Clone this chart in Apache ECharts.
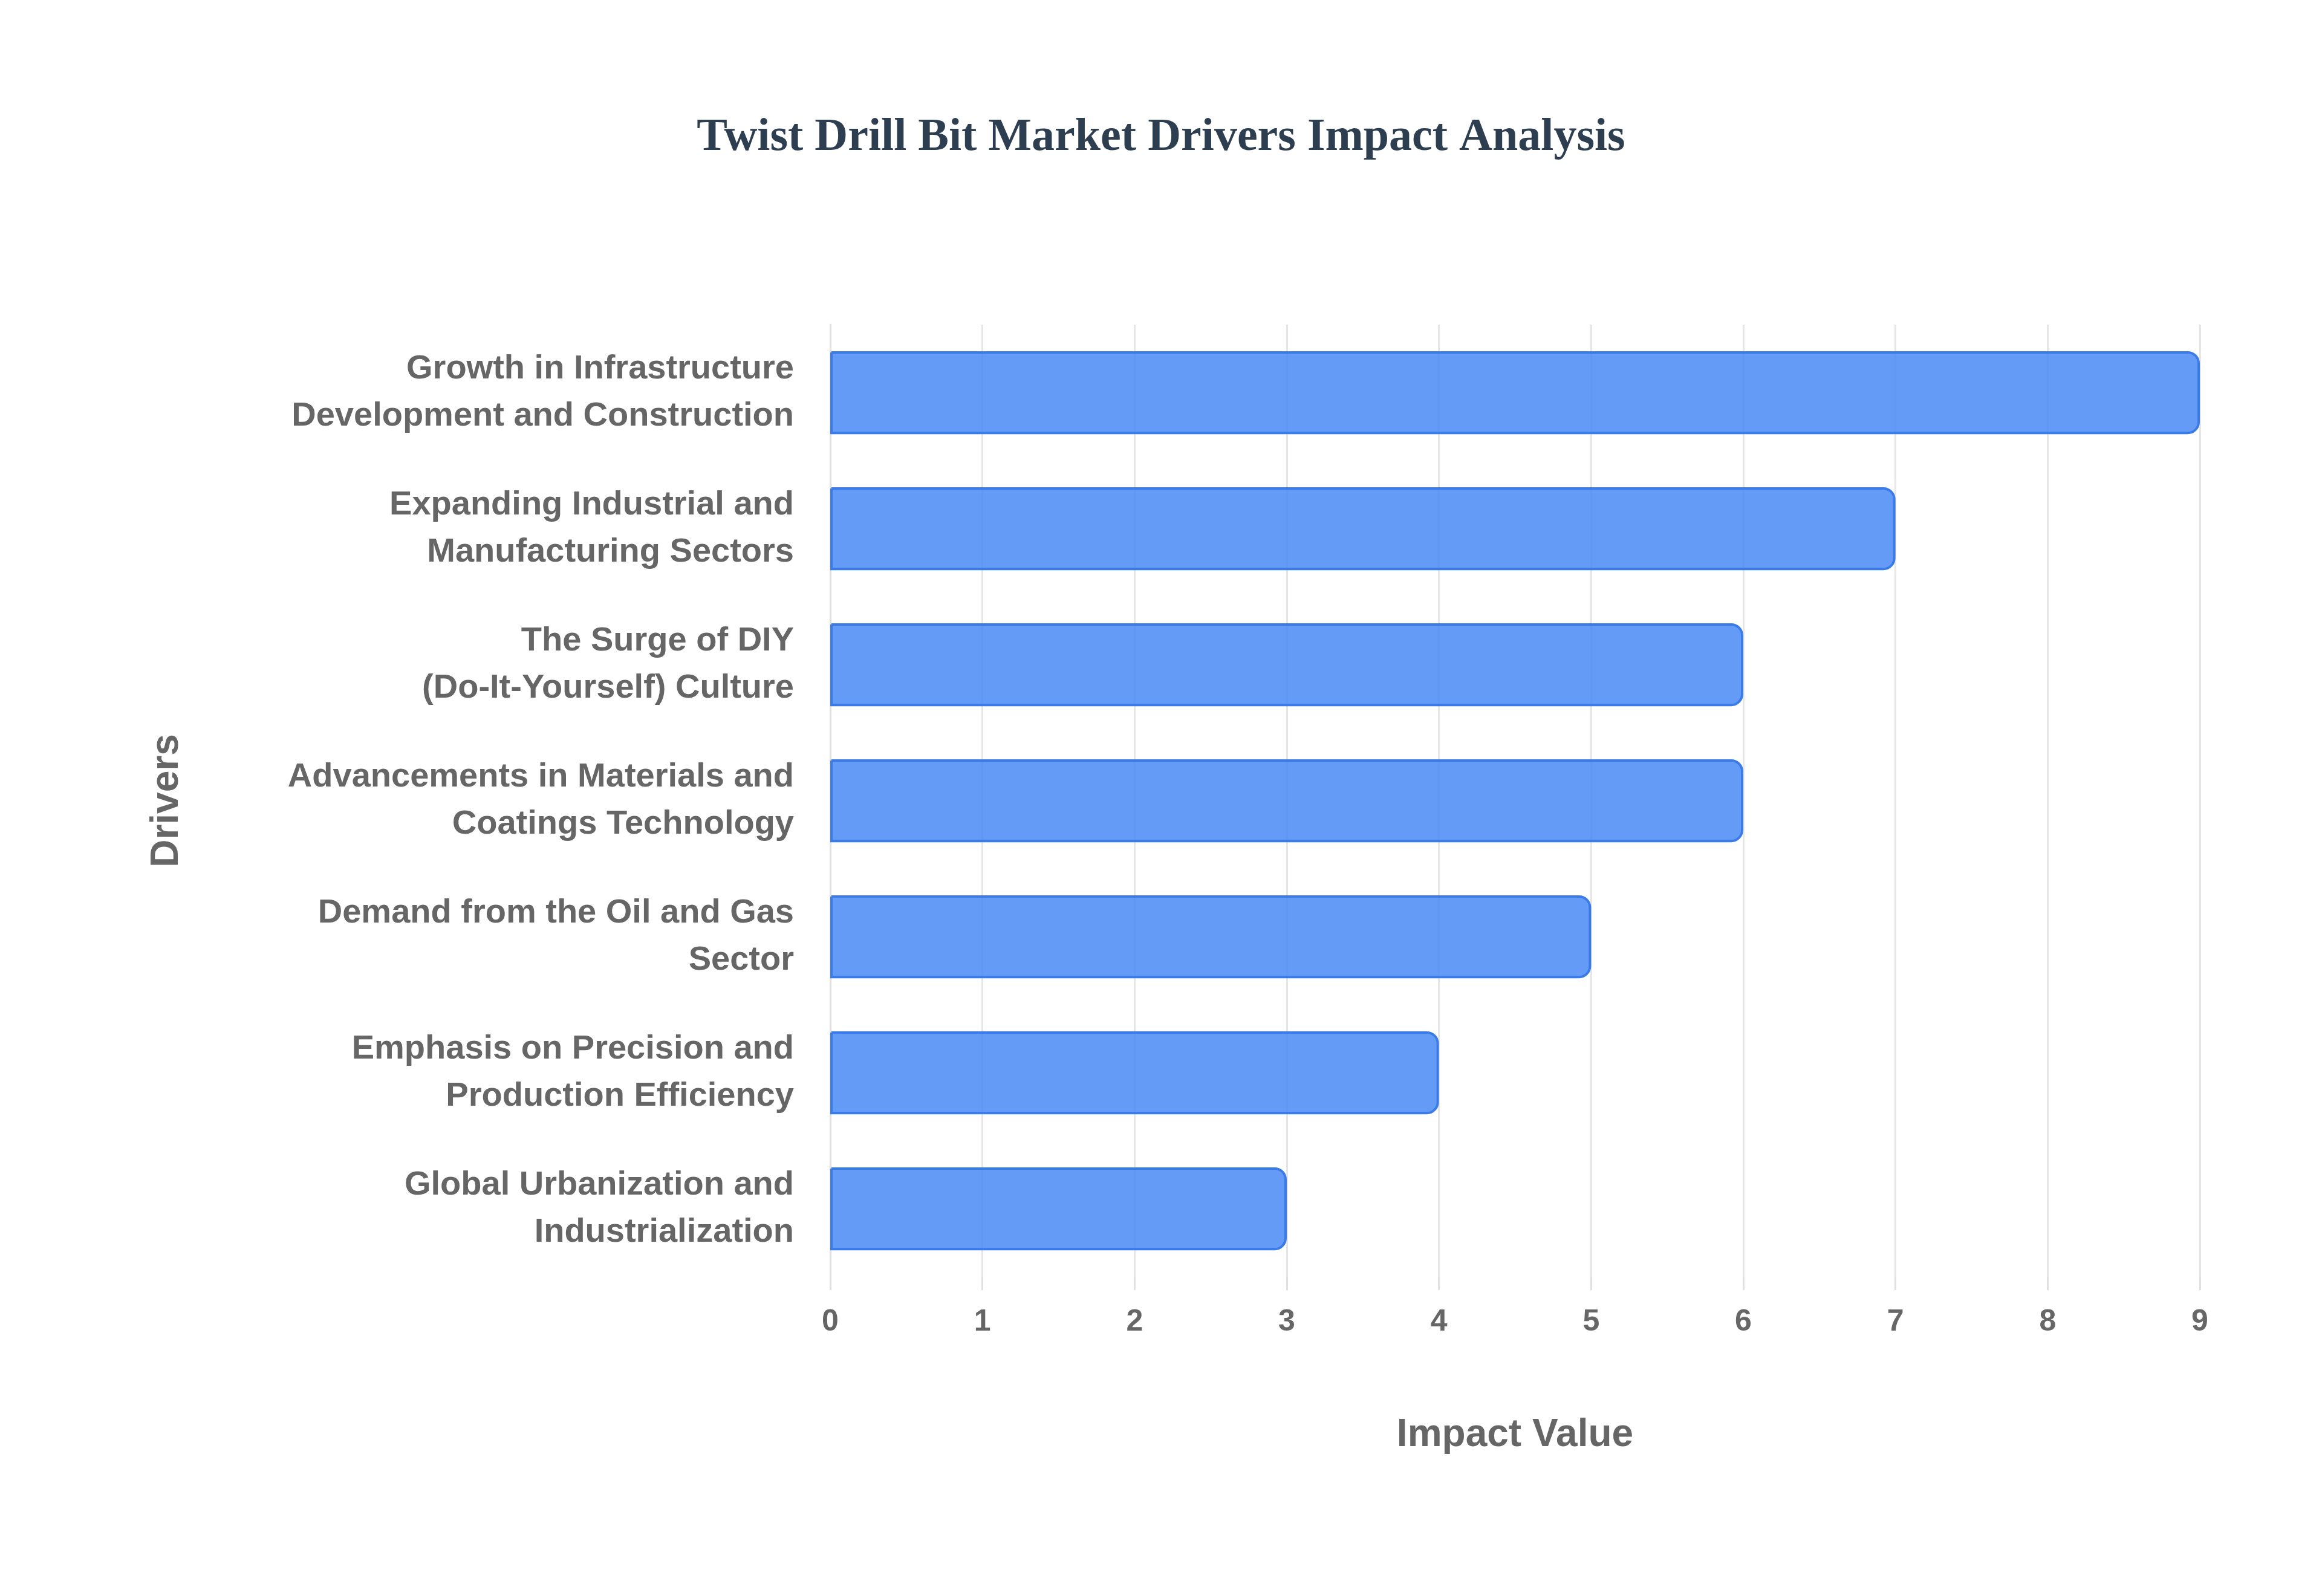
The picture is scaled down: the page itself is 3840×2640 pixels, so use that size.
<!DOCTYPE html>
<html><head><meta charset="utf-8">
<script src="https://cdn.jsdelivr.net/npm/echarts@6/dist/echarts.min.js"></script>
<style>html,body{margin:0;padding:0;background:#fff}#c{width:3840px;height:2640px}</style>
</head><body><div id="c"></div>
<script>
const categories = [
  "Global Urbanization and\nIndustrialization",
  "Emphasis on Precision and\nProduction Efficiency",
  "Demand from the Oil and Gas\nSector",
  "Advancements in Materials and\nCoatings Technology",
  "The Surge of DIY\n(Do-It-Yourself) Culture",
  "Expanding Industrial and\nManufacturing Sectors",
  "Growth in Infrastructure\nDevelopment and Construction"
];
const values = [3, 4, 5, 6, 6, 7, 9];
const chart = echarts.init(document.getElementById('c'));
chart.setOption({
  backgroundColor: '#fff',
  title: {text: 'Twist Drill Bit Market Drivers Impact Analysis', left: 'center', top: 185,
    textStyle: {fontFamily: 'Liberation Serif', fontWeight: 'bold', fontSize: 76, color: '#2c3e50'}},
  grid: {left: 1373, right: 202, top: 537, bottom: 528},
  xAxis: {type: 'value', min: 0, max: 9, interval: 1,
    name: 'Impact Value', nameLocation: 'middle', nameGap: 230,
    nameTextStyle: {fontFamily: 'Liberation Sans', fontWeight: 'bold', fontSize: 64, color: '#666'},
    axisLabel: {fontFamily: 'Liberation Sans', fontWeight: 'bold', fontSize: 50, color: '#666', margin: 50},
    axisLine: {show: false},
    axisTick: {show: true, length: 22, lineStyle: {color: '#e0e0e0', width: 3}},
    splitLine: {lineStyle: {color: '#e6e6e6', width: 3}}},
  yAxis: {type: 'category', data: categories,
    name: 'Drivers', nameLocation: 'middle', nameGap: 1065, nameRotate: 90,
    nameTextStyle: {fontFamily: 'Liberation Sans', fontWeight: 'bold', fontSize: 64, color: '#666'},
    axisLabel: {fontFamily: 'Liberation Sans', fontWeight: 'bold', fontSize: 56, color: '#666', margin: 60, lineHeight: 78, align: 'right'},
    axisLine: {show: true, lineStyle: {color: '#e0e0e0', width: 3}},
    axisTick: {show: false}},
  series: [{type: 'bar', data: values, barWidth: '61%',
    itemStyle: {color: 'rgba(66,133,244,0.82)', borderColor: '#3b7be8', borderWidth: 4, borderRadius: [0, 18, 18, 0]}}]
});
</script></body></html>
